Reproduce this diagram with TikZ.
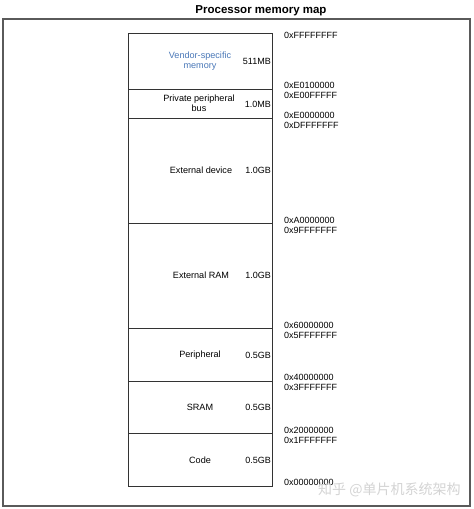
\documentclass[tikz,border=0pt]{standalone}
\usepackage{fontspec}
\setmainfont{Liberation Sans}
\newfontfamily\cjk{Noto Sans CJK SC}
\definecolor{vendorblue}{HTML}{4A78B8}
\definecolor{framegray}{HTML}{5A5A5A}
\definecolor{wmgray}{HTML}{D4D4D4}
\begin{document}
\begin{tikzpicture}[x=1pt,y=-1pt,
  lbl/.style={font=\fontsize{9.1}{10.5}\selectfont, inner sep=0pt, align=center},
  addr/.style={font=\fontsize{9}{10}\selectfont, inner sep=0pt, anchor=west},
  size/.style={font=\fontsize{9}{10}\selectfont, inner sep=0pt, anchor=east},
  region/.style={draw=black!80, line width=0.9pt, anchor=north west, inner sep=0pt, minimum width=144pt}]
\useasboundingbox (0,0) rectangle (474,509);
\fill[white] (0,0) rectangle (474,509);
\node[font=\bfseries\fontsize{11.5}{13}\selectfont, inner sep=0pt] (title) at (261,11) {Processor memory map};
\draw[framegray, line width=1.6pt] (3,19) rectangle (470,506);
% regions
\node[region, minimum height=56pt] (r1) at (128,33) {};
\node[region, minimum height=29pt] (r2) at (128,89) {};
\node[region, minimum height=105pt] (r3) at (128,118) {};
\node[region, minimum height=105pt] (r4) at (128,223) {};
\node[region, minimum height=53pt] (r5) at (128,328) {};
\node[region, minimum height=52pt] (r6) at (128,381) {};
\node[region, minimum height=53pt] (r7) at (128,433) {};
% names
\node[lbl, text=vendorblue] (n1) at (200,61) {Vendor-specific\\memory};
\node[lbl] (n2) at (199,103) {Private peripheral\\bus};
\node[lbl] (n3) at (201,170) {External device};
\node[lbl] (n4) at (201,275) {External RAM};
\node[lbl] (n5) at (200,355) {Peripheral};
\node[lbl] (n6) at (200,407) {SRAM};
\node[lbl] (n7) at (200,460) {Code};
% sizes
\node[size] (s1) at (271,61) {511MB};
\node[size] (s2) at (271,104) {1.0MB};
\node[size] (s3) at (271,170) {1.0GB};
\node[size] (s4) at (271,275) {1.0GB};
\node[size] (s5) at (271,355) {0.5GB};
\node[size] (s6) at (271,407) {0.5GB};
\node[size] (s7) at (271,460) {0.5GB};
% addresses
\node[addr] (a0) at (284,35) {0xFFFFFFFF};
\node[addr] (a1) at (284,85) {0xE0100000};
\node[addr] (a2) at (284,95) {0xE00FFFFF};
\node[addr] (a3) at (284,115) {0xE0000000};
\node[addr] (a4) at (284,125) {0xDFFFFFFF};
\node[addr] (a5) at (284,220) {0xA0000000};
\node[addr] (a6) at (284,230) {0x9FFFFFFF};
\node[addr] (a7) at (284,325) {0x60000000};
\node[addr] (a8) at (284,335) {0x5FFFFFFF};
\node[addr] (a9) at (284,377) {0x40000000};
\node[addr] (a10) at (284,387) {0x3FFFFFFF};
\node[addr] (a11) at (284,430) {0x20000000};
\node[addr] (a12) at (284,440) {0x1FFFFFFF};
\node[addr] (a13) at (284,482) {0x00000000};
% watermark
\node[anchor=west, inner sep=0pt, text=wmgray, font=\cjk\fontsize{14}{16}\selectfont] (wm) at (318,490) {知乎 @单片机系统架构};
\end{tikzpicture}
\end{document}
